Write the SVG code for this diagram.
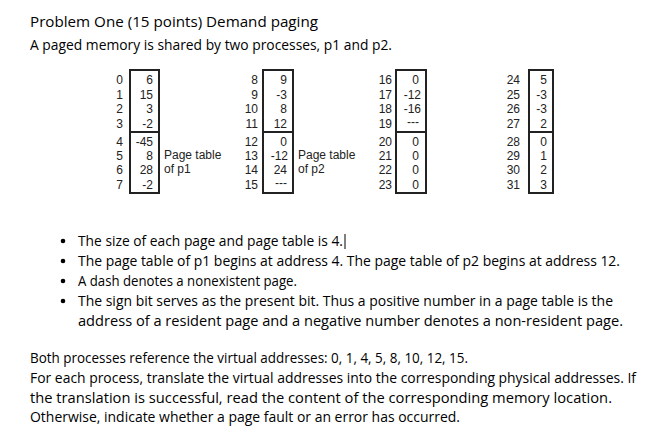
<svg xmlns="http://www.w3.org/2000/svg" width="656" height="443" viewBox="0 0 656 443">
<style>
.t{font-family:"Open Sans","Liberation Sans",sans-serif;font-size:14px;fill:#000}
.n{font-family:"Liberation Sans",Arial,sans-serif;font-size:12px;fill:#222;text-anchor:end}
.l{font-family:"Liberation Sans",Arial,sans-serif;font-size:12px;fill:#222}
.b{fill:none;stroke:#222;stroke-width:2}
</style>
<rect width="656" height="443" fill="#fff"/>
<text class="t" x="30" y="27" textLength="288" lengthAdjust="spacingAndGlyphs">Problem One (15 points) Demand paging</text>
<text class="t" x="30" y="50" textLength="362" lengthAdjust="spacingAndGlyphs">A paged memory is shared by two processes, p1 and p2.</text>
<g id="mem0">
<rect class="b" x="130" y="70" width="29" height="123"/><line class="b" x1="130" y1="132" x2="159" y2="132"/>
<text class="n" x="123" y="84">0</text><text class="n" x="123" y="98.5">1</text><text class="n" x="123" y="113">2</text><text class="n" x="123" y="128">3</text>
<text class="n" x="123" y="146">4</text><text class="n" x="123" y="160">5</text><text class="n" x="123" y="174">6</text><text class="n" x="123" y="189">7</text>
<text class="n" x="153" y="84">6</text><text class="n" x="153" y="98.5">15</text><text class="n" x="153" y="113">3</text><text class="n" x="153" y="128">-2</text>
<text class="n" x="153" y="146">-45</text><text class="n" x="153" y="160">8</text><text class="n" x="153" y="174">28</text><text class="n" x="153" y="189">-2</text>
<text class="l" x="164" y="159">Page table</text><text class="l" x="164" y="173">of p1</text>
</g>
<g id="mem8">
<rect class="b" x="263" y="70" width="30" height="123"/><line class="b" x1="263" y1="132" x2="293" y2="132"/>
<text class="n" x="258" y="84">8</text><text class="n" x="258" y="98.5">9</text><text class="n" x="258" y="113">10</text><text class="n" x="258" y="128">11</text>
<text class="n" x="258" y="146">12</text><text class="n" x="258" y="160">13</text><text class="n" x="258" y="174">14</text><text class="n" x="258" y="189">15</text>
<text class="n" x="287" y="84">9</text><text class="n" x="287" y="98.5">-3</text><text class="n" x="287" y="113">8</text><text class="n" x="287" y="128">12</text>
<text class="n" x="287" y="146">0</text><text class="n" x="288" y="160">-12</text><text class="n" x="287" y="174">24</text><text class="n" x="287" y="187">---</text>
<text class="l" x="298" y="159">Page table</text><text class="l" x="298" y="173">of p2</text>
</g>
<g id="mem16">
<rect class="b" x="396" y="70" width="30" height="123"/><line class="b" x1="396" y1="132" x2="426" y2="132"/>
<text class="n" x="392" y="84">16</text><text class="n" x="392" y="98.5">17</text><text class="n" x="392" y="113">18</text><text class="n" x="392" y="128">19</text>
<text class="n" x="392" y="146">20</text><text class="n" x="392" y="160">21</text><text class="n" x="392" y="174">22</text><text class="n" x="392" y="189">23</text>
<text class="n" x="419" y="84">0</text><text class="n" x="421" y="98.5">-12</text><text class="n" x="421" y="113">-16</text><text class="n" x="419" y="126">---</text>
<text class="n" x="419" y="146">0</text><text class="n" x="419" y="160">0</text><text class="n" x="419" y="174">0</text><text class="n" x="419" y="189">0</text>
</g>
<g id="mem24">
<rect class="b" x="529" y="70" width="24" height="123"/><line class="b" x1="529" y1="132" x2="553" y2="132"/>
<text class="n" x="520" y="84">24</text><text class="n" x="520" y="98.5">25</text><text class="n" x="520" y="113">26</text><text class="n" x="520" y="128">27</text>
<text class="n" x="520" y="146">28</text><text class="n" x="520" y="160">29</text><text class="n" x="520" y="174">30</text><text class="n" x="520" y="189">31</text>
<text class="n" x="547" y="84">5</text><text class="n" x="547" y="98.5">-3</text><text class="n" x="547" y="113">-3</text><text class="n" x="547" y="128">2</text>
<text class="n" x="547" y="146">0</text><text class="n" x="547" y="160">1</text><text class="n" x="547" y="174">2</text><text class="n" x="547" y="189">3</text>
</g>
<g id="bullets">
<circle cx="63" cy="241" r="2.3"/><circle cx="63" cy="261" r="2.3"/><circle cx="63" cy="281" r="2.3"/><circle cx="63" cy="301" r="2.3"/>
<text class="t" x="78" y="246" textLength="265" lengthAdjust="spacingAndGlyphs">The size of each page and page table is 4.</text>
<line x1="345" y1="234" x2="345" y2="249" stroke="#000" stroke-width="1"/>
<text class="t" x="78" y="266" textLength="542" lengthAdjust="spacingAndGlyphs">The page table of p1 begins at address 4. The page table of p2 begins at address 12.</text>
<text class="t" x="78" y="286" textLength="219" lengthAdjust="spacingAndGlyphs">A dash denotes a nonexistent page.</text>
<text class="t" x="78" y="306" textLength="535" lengthAdjust="spacingAndGlyphs">The sign bit serves as the present bit. Thus a positive number in a page table is the</text>
<text class="t" x="78" y="326" textLength="545" lengthAdjust="spacingAndGlyphs">address of a resident page and a negative number denotes a non-resident page.</text>
</g>
<text class="t" x="30" y="363" textLength="438" lengthAdjust="spacingAndGlyphs">Both processes reference the virtual addresses: 0, 1, 4, 5, 8, 10, 12, 15.</text>
<text class="t" x="30" y="383" textLength="606" lengthAdjust="spacingAndGlyphs">For each process, translate the virtual addresses into the corresponding physical addresses. If</text>
<text class="t" x="30" y="403" textLength="582" lengthAdjust="spacingAndGlyphs">the translation is successful, read the content of the corresponding memory location.</text>
<text class="t" x="30" y="422" textLength="430" lengthAdjust="spacingAndGlyphs">Otherwise, indicate whether a page fault or an error has occurred.</text>
</svg>
